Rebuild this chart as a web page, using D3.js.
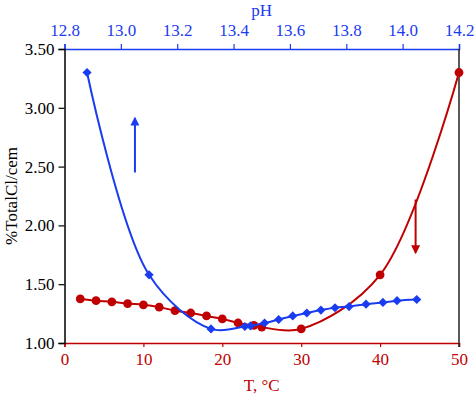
<!DOCTYPE html>
<html>
<head>
<meta charset="utf-8">
<script src="https://cdn.jsdelivr.net/npm/d3@7"></script>
<style>
    body { margin: 0; background: #fff; }
    svg text { font-family: "Times New Roman", "Liberation Serif", Times, serif !important; }
</style>
</head>
<body>
<div id="chart"></div>
<script>
// Blue series: %TotalCl/cem vs pH (top axis)
const phValues = [12.88, 13.10, 13.32, 13.44, 13.46, 13.51, 13.56, 13.61, 13.66, 13.71, 13.76, 13.81, 13.87, 13.93, 13.98, 14.05];
const phCl = [3.30, 1.58, 1.12, 1.14, 1.145, 1.17, 1.20, 1.23, 1.255, 1.28, 1.30, 1.31, 1.33, 1.345, 1.36, 1.37];

// Red series: %TotalCl/cem vs temperature (bottom axis)
const tempValues = [2, 4, 6, 8, 10, 12, 14, 16, 18, 20, 22, 24, 25, 30, 40, 50];
const tempCl = [1.375, 1.36, 1.35, 1.335, 1.325, 1.305, 1.275, 1.255, 1.23, 1.205, 1.17, 1.15, 1.135, 1.12, 1.58, 3.30];

const tTicks = [0, 10, 20, 30, 40, 50];
const phTicks = [12.8, 13.0, 13.2, 13.4, 13.6, 13.8, 14.0, 14.2];
const yTicks = [1.00, 1.50, 2.00, 2.50, 3.00, 3.50];

// arrows in data units: [x, yFrom, yTo]
const blueArrow = {ph: 13.05, from: 2.45, to: 2.91};
const redArrow = {t: 44.5, from: 2.22, to: 1.77};

const blue = "#1a3cf0";
const red = "#c00000";
const fontFam = "'Times New Roman', 'Liberation Serif', serif";

const width = 474, height = 397;
const margin = {top: 49, right: 15, bottom: 54, left: 64.5};

const svg = d3.select("#chart").append("svg")
    .attr("width", width)
    .attr("height", height);

const x = d3.scaleLinear().domain([0, 50]).range([margin.left, width - margin.right]);
const xPh = d3.scaleLinear().domain([12.8, 14.2]).range([margin.left, width - margin.right]);
const y = d3.scaleLinear().domain([1, 3.5]).range([height - margin.bottom, margin.top]);

const defs = svg.append("defs");
[["arrowBlue", blue], ["arrowRed", red]].forEach(([id, c]) => {
    defs.append("marker")
        .attr("id", id)
        .attr("viewBox", "0 0 10 10")
        .attr("refX", 8).attr("refY", 5)
        .attr("markerWidth", 4.5).attr("markerHeight", 4.5)
        .attr("orient", "auto")
        .append("path")
        .attr("d", "M0,0 L10,5 L0,10 Z")
        .attr("fill", c);
});

// Bottom axis (temperature, red)
const xAxis = svg.append("g")
    .attr("transform", `translate(0, ${y(1)})`)
    .call(d3.axisBottom(x).tickValues(tTicks).tickSize(4).tickPadding(6).tickFormat(d3.format("d")));
xAxis.attr("font-family", fontFam);
xAxis.select(".domain").attr("stroke", red).attr("stroke-width", 1.5);
xAxis.selectAll(".tick line").attr("stroke", red).attr("stroke-width", 1.2);
xAxis.selectAll("text").attr("fill", red).style("font-size", "17px");

// Top axis (pH, blue)
const phAxis = svg.append("g")
    .attr("transform", `translate(0, ${y(3.5)})`)
    .call(d3.axisTop(xPh).tickValues(phTicks).tickSize(5).tickPadding(8).tickFormat(d3.format(".1f")));
phAxis.attr("font-family", fontFam);
phAxis.select(".domain").attr("stroke", blue).attr("stroke-width", 1.5);
phAxis.selectAll(".tick line").attr("stroke", blue).attr("stroke-width", 1.2);
phAxis.selectAll("text").attr("fill", blue).style("font-size", "17px");

// Left axis
const yAxis = svg.append("g")
    .attr("transform", `translate(${margin.left}, 0)`)
    .call(d3.axisLeft(y).tickValues(yTicks).tickSize(6).tickPadding(4).tickFormat(d3.format(".2f")));
yAxis.attr("font-family", fontFam);
yAxis.select(".domain").attr("stroke", "#000").attr("stroke-width", 1.5);
yAxis.selectAll(".tick line").attr("stroke", "#000").attr("stroke-width", 1.2);
yAxis.selectAll("text").attr("fill", "#000").style("font-size", "17px");

// Right border
svg.append("line")
    .attr("x1", x(50)).attr("x2", x(50))
    .attr("y1", y(3.5)).attr("y2", y(1) + 4)
    .attr("stroke", "#222").attr("stroke-width", 1.5);

// Axis titles
svg.append("text")
    .attr("x", xPh(13.5)).attr("y", 16)
    .attr("text-anchor", "middle")
    .attr("fill", blue)
    .style("font-size", "17px")
    .text("pH");

svg.append("text")
    .attr("x", x(25)).attr("y", 391)
    .attr("text-anchor", "middle")
    .attr("fill", red)
    .style("font-size", "17px")
    .text("T, °C");

svg.append("text")
    .attr("transform", `translate(17, ${y(2.25)}) rotate(-90)`)
    .attr("text-anchor", "middle")
    .attr("fill", "#000")
    .style("font-size", "17px")
    .text("%TotalCl/cem");

// Lines
const phData = phValues.map((v, i) => ({x: v, y: phCl[i]}));
const tData = tempValues.map((v, i) => ({x: v, y: tempCl[i]}));

const redLine = d3.line().x(d => x(d.x)).y(d => y(d.y)).curve(d3.curveCatmullRom.alpha(0.5));
const blueLine = d3.line().x(d => xPh(d.x)).y(d => y(d.y)).curve(d3.curveCatmullRom.alpha(0.5));

svg.append("path")
    .datum(tData)
    .attr("d", redLine)
    .attr("fill", "none")
    .attr("stroke", red)
    .attr("stroke-width", 2);

svg.selectAll(".red-dot")
    .data(tData)
    .enter().append("circle")
    .attr("class", "red-dot")
    .attr("cx", d => x(d.x))
    .attr("cy", d => y(d.y))
    .attr("r", 4.4)
    .attr("fill", red);

svg.append("path")
    .datum(phData)
    .attr("d", blueLine)
    .attr("fill", "none")
    .attr("stroke", blue)
    .attr("stroke-width", 2);

svg.selectAll(".blue-dot")
    .data(phData)
    .enter().append("path")
    .attr("class", "blue-dot")
    .attr("transform", d => `translate(${xPh(d.x)}, ${y(d.y)}) rotate(45)`)
    .attr("d", d3.symbol().type(d3.symbolSquare).size(42))
    .attr("fill", blue);

// Arrows
svg.append("line")
    .attr("x1", xPh(blueArrow.ph)).attr("x2", xPh(blueArrow.ph))
    .attr("y1", y(blueArrow.from)).attr("y2", y(blueArrow.to))
    .attr("stroke", blue).attr("stroke-width", 2)
    .attr("marker-end", "url(#arrowBlue)");

svg.append("line")
    .attr("x1", x(redArrow.t)).attr("x2", x(redArrow.t))
    .attr("y1", y(redArrow.from)).attr("y2", y(redArrow.to))
    .attr("stroke", red).attr("stroke-width", 2)
    .attr("marker-end", "url(#arrowRed)");
</script>
</body>
</html>
